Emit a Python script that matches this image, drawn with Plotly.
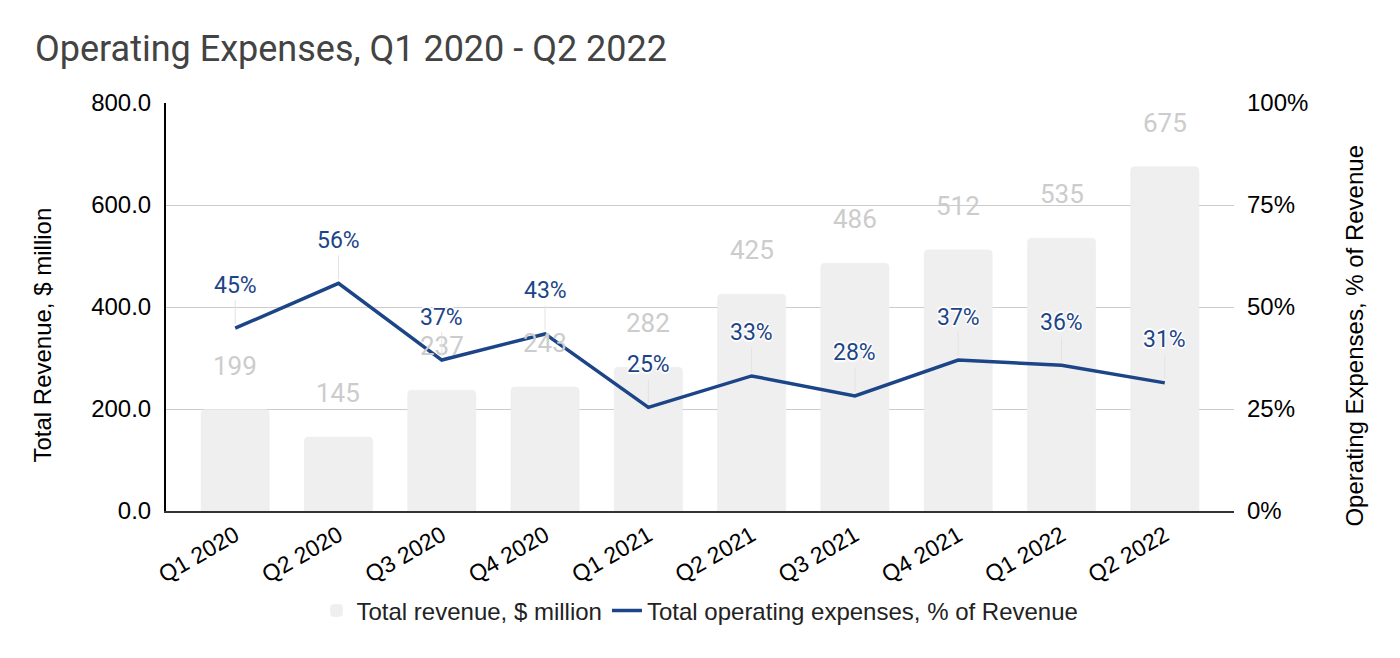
import plotly.graph_objs as go

quarters = ["Q1 2020", "Q2 2020", "Q3 2020", "Q4 2020", "Q1 2021",
            "Q2 2021", "Q3 2021", "Q4 2021", "Q1 2022", "Q2 2022"]
revenue = [199, 145, 237, 243, 282, 425, 486, 512, 535, 675]
opex_pct = [0.448, 0.558, 0.37, 0.434, 0.254, 0.331, 0.282, 0.37, 0.357, 0.314]

BLUE = "#1c4587"
HALO = ("1px 1px 1px white, -1px -1px 1px white, 1px -1px 1px white, "
        "-1px 1px 1px white, 0px 2px 1px white, 0px -2px 1px white")

bars = go.Bar(
    x=quarters,
    y=revenue,
    name="Total revenue, $ million",
    marker=dict(color="#efefef", cornerradius=4),
    hoverinfo="x+y",
)

line = go.Scatter(
    x=quarters,
    y=opex_pct,
    name="Total operating expenses, % of Revenue",
    mode="lines",
    line=dict(color=BLUE, width=3.5),
    yaxis="y2",
)

annotations = []
for q, r in zip(quarters, revenue):
    annotations.append(dict(
        x=q, y=r, xref="x", yref="y", text=str(r), showarrow=False,
        yshift=44, font=dict(family="Roboto", size=26, color="#cccccc"),
    ))
for q, p in zip(quarters, opex_pct):
    annotations.append(dict(
        x=q, y=p, xref="x", yref="y2", text=f"{round(p * 100)}%",
        showarrow=True, arrowhead=0, arrowwidth=1, arrowcolor="#e3e3e3",
        ax=0, ay=-43, standoff=4,
        font=dict(family="Roboto", size=23, color=BLUE, shadow=HALO),
    ))

# axis titles, placed as annotations so they sit where the reference has them
annotations.append(dict(
    x=(43 - 166) / 1068, y=0.43, xref="x domain", yref="paper",
    xanchor="center", text="Total Revenue, $ million",
    showarrow=False, textangle=-90,
    font=dict(family="Arial", size=24, color="#000000"),
))
annotations.append(dict(
    x=(1355 - 166) / 1068, y=0.43, xref="x domain", yref="paper",
    xanchor="center", text="Operating Expenses, % of Revenue",
    showarrow=False, textangle=-90,
    font=dict(family="Arial", size=24, color="#000000"),
))

layout = go.Layout(
    title=dict(
        text="Operating Expenses, Q1 2020 - Q2 2022",
        x=27 / 1400, xref="container", xanchor="left",
        y=1 - 40 / 658, yref="container", yanchor="middle",
        font=dict(family="Roboto", size=36, color="#434343"),
    ),
    width=1400,
    height=658,
    margin=dict(l=158, r=174, t=95, b=155),
    plot_bgcolor="white",
    paper_bgcolor="white",
    bargap=0.34,
    xaxis=dict(
        range=[-0.67, 9.67],
        tickangle=-30,
        tickfont=dict(family="Arial", size=23, color="#000000"),
        showline=True, linecolor="#333333", linewidth=2,
        showgrid=False,
    ),
    yaxis=dict(
        range=[0, 800], dtick=200, tickformat=".1f",
        tickfont=dict(family="Arial", size=24, color="#000000"),
        showline=True, linecolor="#000000", linewidth=2,
        gridcolor="#cccccc", gridwidth=1,
        zeroline=False, ticklabelstandoff=8,
    ),
    yaxis2=dict(
        range=[0, 1], dtick=0.25, tickformat=".0%",
        overlaying="y", side="right",
        tickfont=dict(family="Arial", size=24, color="#000000"),
        showgrid=False, zeroline=False, ticklabelstandoff=12,
    ),
    legend=dict(
        orientation="h", x=0.5, xanchor="center",
        y=-0.245, yanchor="middle",
        font=dict(family="Arial", size=24, color="#222222"),
    ),
    annotations=annotations,
)

fig = go.Figure(data=[bars, line], layout=layout)
fig.write_html("out.html")
